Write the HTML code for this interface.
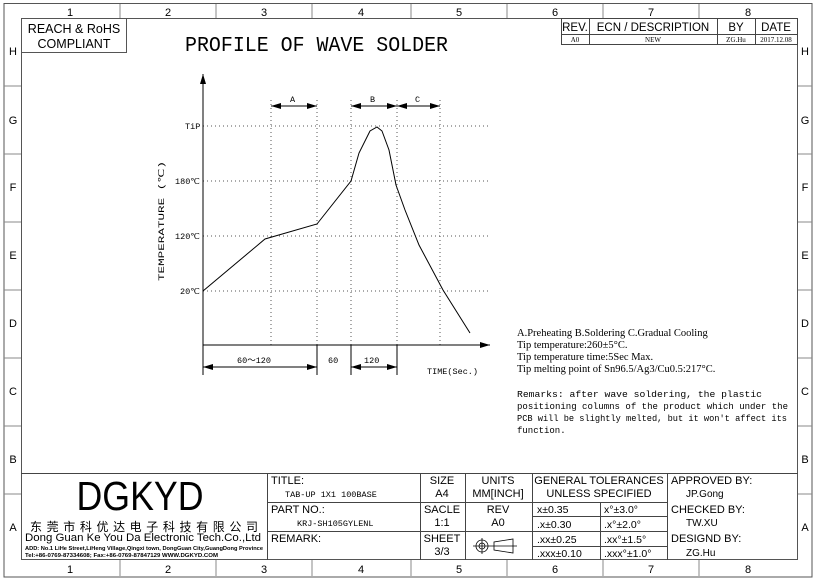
<!DOCTYPE html>
<html><head><meta charset="utf-8"><style>
html,body{margin:0;padding:0;background:#fff;}
svg{display:block;}
.s{font-family:"Liberation Sans",sans-serif;}
.r{font-family:"Liberation Serif",serif;}
.m{font-family:"Liberation Mono",monospace;}
</style></head><body>
<svg width="815" height="579" viewBox="0 0 815 579" xmlns="http://www.w3.org/2000/svg">
<defs>
<marker id="ar" markerWidth="10" markerHeight="6" refX="10" refY="3" orient="auto" markerUnits="userSpaceOnUse"><path d="M0,0 L10,3 L0,6 z" fill="#000"/></marker>
<marker id="al" markerWidth="10" markerHeight="6" refX="0" refY="3" orient="auto" markerUnits="userSpaceOnUse"><path d="M10,0 L0,3 L10,6 z" fill="#000"/></marker>
</defs>
<g fill="none" stroke="#555" stroke-width="1">
<rect x="4" y="3.5" width="808" height="573.5"/>
<rect x="21.5" y="18.5" width="776" height="541"/>
</g>
<g stroke="#888" stroke-width="1">
<line x1="120" y1="4" x2="120" y2="18"/><line x1="216" y1="4" x2="216" y2="18"/><line x1="312" y1="4" x2="312" y2="18"/><line x1="411" y1="4" x2="411" y2="18"/><line x1="507" y1="4" x2="507" y2="18"/><line x1="603" y1="4" x2="603" y2="18"/><line x1="699" y1="4" x2="699" y2="18"/>
<line x1="120" y1="560" x2="120" y2="576"/><line x1="216" y1="560" x2="216" y2="576"/><line x1="312" y1="560" x2="312" y2="576"/><line x1="411" y1="560" x2="411" y2="576"/><line x1="507" y1="560" x2="507" y2="576"/><line x1="603" y1="560" x2="603" y2="576"/><line x1="699" y1="560" x2="699" y2="576"/>
<line x1="4" y1="86" x2="21" y2="86"/><line x1="4" y1="154" x2="21" y2="154"/><line x1="4" y1="222" x2="21" y2="222"/><line x1="4" y1="290" x2="21" y2="290"/><line x1="4" y1="358" x2="21" y2="358"/><line x1="4" y1="426" x2="21" y2="426"/><line x1="4" y1="494" x2="21" y2="494"/>
<line x1="798" y1="86" x2="812" y2="86"/><line x1="798" y1="154" x2="812" y2="154"/><line x1="798" y1="222" x2="812" y2="222"/><line x1="798" y1="290" x2="812" y2="290"/><line x1="798" y1="358" x2="812" y2="358"/><line x1="798" y1="426" x2="812" y2="426"/><line x1="798" y1="494" x2="812" y2="494"/>
</g>
<g class="s" font-size="11" text-anchor="middle" fill="#000">
<text x="70" y="16">1</text><text x="168" y="16">2</text><text x="264" y="16">3</text><text x="361" y="16">4</text><text x="459" y="16">5</text><text x="555" y="16">6</text><text x="651" y="16">7</text><text x="748" y="16">8</text>
<text x="70" y="573">1</text><text x="168" y="573">2</text><text x="264" y="573">3</text><text x="361" y="573">4</text><text x="459" y="573">5</text><text x="555" y="573">6</text><text x="651" y="573">7</text><text x="748" y="573">8</text>
<text x="13" y="55">H</text><text x="13" y="124">G</text><text x="13" y="191">F</text><text x="13" y="259">E</text><text x="13" y="327">D</text><text x="13" y="395">C</text><text x="13" y="463">B</text><text x="13" y="531">A</text>
<text x="805" y="55">H</text><text x="805" y="124">G</text><text x="805" y="191">F</text><text x="805" y="259">E</text><text x="805" y="327">D</text><text x="805" y="395">C</text><text x="805" y="463">B</text><text x="805" y="531">A</text>
</g>
<rect x="21.5" y="18.5" width="105" height="34" fill="none" stroke="#555"/>
<text class="s" x="74" y="33" font-size="12.5" text-anchor="middle">REACH &amp; RoHS</text>
<text class="s" x="74" y="48" font-size="12.5" text-anchor="middle">COMPLIANT</text>
<text class="m" x="185" y="51" font-size="21" textLength="263" lengthAdjust="spacingAndGlyphs">PROFILE OF WAVE SOLDER</text>
<g fill="none" stroke="#444">
<rect x="561.5" y="18.5" width="236" height="26"/>
<line x1="561" y1="34.5" x2="797" y2="34.5"/>
<line x1="589.5" y1="18" x2="589.5" y2="44"/><line x1="717.5" y1="18" x2="717.5" y2="44"/><line x1="755.5" y1="18" x2="755.5" y2="44"/>
</g>
<g class="s" font-size="11.5" text-anchor="middle"><text x="575" y="31">REV.</text><text x="653" y="31">ECN / DESCRIPTION</text><text x="736" y="31">BY</text><text x="776" y="31">DATE</text></g>
<g class="r" font-size="7" text-anchor="middle"><text x="575" y="42">A0</text><text x="653" y="42">NEW</text><text x="736" y="42">ZG.Hu</text><text x="776" y="42">2017.12.08</text></g>
<g stroke="#555" stroke-width="1" stroke-dasharray="1,3" fill="none">
<line x1="203" y1="126" x2="490" y2="126"/><line x1="203" y1="181" x2="490" y2="181"/><line x1="203" y1="236" x2="490" y2="236"/><line x1="203" y1="291" x2="490" y2="291"/>
<line x1="271" y1="100" x2="271" y2="345"/><line x1="317" y1="100" x2="317" y2="345"/><line x1="351" y1="100" x2="351" y2="345"/><line x1="397" y1="100" x2="397" y2="345"/><line x1="440" y1="100" x2="440" y2="345"/>
</g>
<g stroke="#000" stroke-width="1" fill="none">
<line x1="203" y1="375" x2="203" y2="74" marker-end="url(#ar)"/>
<line x1="203" y1="345" x2="490" y2="345" marker-end="url(#ar)"/>
<line x1="317" y1="345" x2="317" y2="375"/><line x1="351" y1="345" x2="351" y2="375"/><line x1="397" y1="345" x2="397" y2="375"/>
<polyline points="203,291 265,239 317,224 351,181 359,153 370,131 377,127 382,131 389,150 396,185 405,210 419,245 443,290 470,333"/>
<line x1="271" y1="106" x2="317" y2="106" marker-start="url(#al)" marker-end="url(#ar)"/>
<line x1="351" y1="106" x2="397" y2="106" marker-start="url(#al)" marker-end="url(#ar)"/>
<line x1="397" y1="106" x2="440" y2="106" marker-start="url(#al)" marker-end="url(#ar)"/>
<line x1="203" y1="367" x2="317" y2="367" marker-start="url(#al)" marker-end="url(#ar)"/>
<line x1="351" y1="367" x2="397" y2="367" marker-start="url(#al)" marker-end="url(#ar)"/>
</g>
<g class="m" font-size="8.5" fill="#000">
<text x="290" y="102">A</text><text x="370" y="102">B</text><text x="415" y="102">C</text>
<text x="185" y="129">TiP</text><text x="175" y="184">180℃</text><text x="175" y="239">120℃</text><text x="180" y="294">20℃</text>
<text x="237" y="363">60～120</text><text x="328" y="363">60</text><text x="364" y="363">120</text>
<text x="427" y="374">TIME(Sec.)</text>
<text transform="translate(164,281) rotate(-90)" textLength="120" lengthAdjust="spacingAndGlyphs">TEMPERATURE (℃)</text>
</g>
<g class="r" font-size="10.5" fill="#000">
<text x="517" y="336">A.Preheating  B.Soldering  C.Gradual Cooling</text>
<text x="517" y="348">Tip temperature:260±5°C.</text>
<text x="517" y="360">Tip temperature time:5Sec Max.</text>
<text x="517" y="372">Tip melting point of Sn96.5/Ag3/Cu0.5:217°C.</text>
</g>
<g class="m" font-size="9" fill="#000">
<text x="517" y="397" textLength="245" lengthAdjust="spacingAndGlyphs">Remarks: after wave soldering, the plastic</text>
<text x="517" y="409" textLength="271" lengthAdjust="spacingAndGlyphs">positioning columns of the product  which under the</text>
<text x="517" y="421" textLength="270" lengthAdjust="spacingAndGlyphs">PCB will be slightly melted, but it won't affect its</text>
<text x="517" y="433">function.</text>
</g>
<g fill="none" stroke="#444" stroke-width="1">
<line x1="21" y1="473.5" x2="798" y2="473.5"/>
<line x1="267.5" y1="473" x2="267.5" y2="560"/>
<line x1="420.5" y1="473" x2="420.5" y2="560"/>
<line x1="465.5" y1="473" x2="465.5" y2="560"/>
<line x1="532.5" y1="473" x2="532.5" y2="560"/>
<line x1="667.5" y1="473" x2="667.5" y2="560"/>
<line x1="600.5" y1="502" x2="600.5" y2="560"/>
<line x1="267" y1="502.5" x2="532" y2="502.5"/><line x1="267" y1="531.5" x2="532" y2="531.5"/>
<line x1="532" y1="502.5" x2="667" y2="502.5"/>
<line x1="532" y1="516.5" x2="667" y2="516.5"/><line x1="532" y1="531.5" x2="667" y2="531.5"/><line x1="532" y1="546.5" x2="667" y2="546.5"/>
</g>
<text class="s" x="140" y="510" font-size="41" text-anchor="middle" textLength="127" lengthAdjust="spacingAndGlyphs">DGKYD</text>
<text x="30" y="531" font-size="12" font-family="'Liberation Sans','Noto Sans CJK SC',sans-serif" textLength="228" lengthAdjust="spacing">东莞市科优达电子科技有限公司</text>
<text class="s" x="25" y="541" font-size="11" textLength="236" lengthAdjust="spacingAndGlyphs">Dong Guan Ke You Da Electronic Tech.Co.,Ltd</text>
<text class="s" x="25" y="550" font-size="5.3" font-weight="bold" textLength="238" lengthAdjust="spacingAndGlyphs">ADD: No.1 LiHe Street,LiHeng Village,Qingxi town, DongGuan City,GuangDong Province</text>
<text class="s" x="25" y="557" font-size="5.3" font-weight="bold" textLength="193" lengthAdjust="spacingAndGlyphs">Tel:+86-0769-87334608; Fax:+86-0769-87847129  WWW.DGKYD.COM</text>
<g class="s" font-size="11" fill="#000">
<text x="271" y="484">TITLE:</text><text x="271" y="513">PART NO.:</text><text x="271" y="542">REMARK:</text>
<text x="671" y="484">APPROVED BY:</text><text x="671" y="513">CHECKED BY:</text><text x="671" y="542">DESIGND BY:</text>
<text x="686" y="497" font-size="10">JP.Gong</text><text x="686" y="526" font-size="10">TW.XU</text><text x="686" y="556" font-size="10">ZG.Hu</text>
</g>
<g class="m" font-size="8.5"><text x="285" y="497">TAB-UP 1X1 100BASE</text><text x="297" y="526">KRJ-SH105GYLENL</text></g>
<g class="s" font-size="11" text-anchor="middle">
<text x="442" y="484">SIZE</text><text x="442" y="497">A4</text>
<text x="442" y="513">SACLE</text><text x="442" y="526">1:1</text>
<text x="442" y="542">SHEET</text><text x="442" y="555">3/3</text>
<text x="498" y="484">UNITS</text><text x="498" y="497">MM[INCH]</text>
<text x="498" y="513">REV</text><text x="498" y="526">A0</text>
<text x="599" y="484">GENERAL TOLERANCES</text><text x="599" y="497">UNLESS SPECIFIED</text>
</g>
<g class="s" font-size="10.5">
<text x="537" y="513">x±0.35</text><text x="604" y="513">x°±3.0°</text>
<text x="537" y="528">.x±0.30</text><text x="604" y="528">.x°±2.0°</text>
<text x="537" y="543">.xx±0.25</text><text x="604" y="543">.xx°±1.5°</text>
<text x="537" y="557">.xxx±0.10</text><text x="604" y="557">.xxx°±1.0°</text>
</g>
<g fill="none" stroke="#000" stroke-width="0.8">
<circle cx="482" cy="546" r="6"/><circle cx="482" cy="546" r="3"/>
<line x1="473" y1="546" x2="517" y2="546"/><line x1="482" y1="538" x2="482" y2="554"/>
<polygon points="494,542 494,550 513,553 513,539"/>
</g>
</svg>
</body></html>
